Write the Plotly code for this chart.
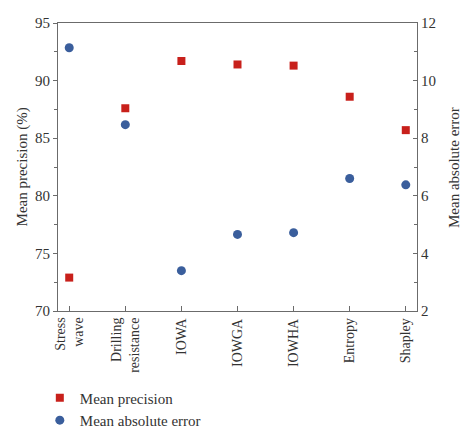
import plotly.graph_objects as go

categories = ["Stress<br>wave", "Drilling<br>resistance", "IOWA", "IOWGA", "IOWHA", "Entropy", "Shapley"]
mean_precision = [72.9, 87.6, 91.7, 91.4, 91.3, 88.6, 85.7]
mean_abs_error = [11.14, 8.47, 3.40, 4.66, 4.72, 6.60, 6.38]
left_title = "Mean precision (%)"
right_title = "Mean absolute error"

RED = "#c8201b"
BLUE = "#3a5e9c"
AX = "#6b6b6b"
TXT = "#333333"
FONT = "Liberation Serif"

fig = go.Figure()
fig.add_trace(go.Scatter(x=categories, y=mean_precision, mode="markers", name="Mean precision",
                         marker=dict(symbol="square", size=8, color=RED), yaxis="y"))
fig.add_trace(go.Scatter(x=categories, y=mean_abs_error, mode="markers", name="Mean absolute error",
                         marker=dict(symbol="circle", size=9, color=BLUE), yaxis="y2"))

# category labels (rotated, line ends aligned toward the axis)
for c in categories:
    fig.add_annotation(text=c, x=c, xref="x", y=0, yref="paper", yanchor="top", xanchor="center",
                       yshift=-5, textangle=-90, align="right", showarrow=False,
                       font=dict(family=FONT, size=14, color=TXT))

fig.add_annotation(text=left_title, xref="paper", yref="paper", x=-0.099, y=0.5, textangle=-90,
                   showarrow=False, xanchor="center", yanchor="middle",
                   font=dict(family=FONT, size=15, color=TXT))
fig.add_annotation(text=right_title, xref="paper", yref="paper", x=1.103, y=0.5, textangle=-90,
                   showarrow=False, xanchor="center", yanchor="middle",
                   font=dict(family=FONT, size=15, color=TXT))

fig.update_layout(
    width=474, height=443,
    margin=dict(l=57.5, r=57, t=23, b=132, autoexpand=False),
    paper_bgcolor="white", plot_bgcolor="white",
    font=dict(family=FONT, size=14, color=TXT),
    showlegend=True,
    legend=dict(xref="container", yref="container", x=0.084, y=0.139, xanchor="left", yanchor="top",
                font=dict(family=FONT, size=15, color=TXT), bgcolor="rgba(0,0,0,0)",
                tracegroupgap=0, itemwidth=30),
    xaxis=dict(type="category", range=[-0.2, 6.2], showline=True, linecolor=AX, linewidth=1,
               mirror=True, ticks="inside", ticklen=5, tickcolor=AX, automargin=False,
               showticklabels=False, showgrid=False, zeroline=False),
    yaxis=dict(range=[70, 95], dtick=5, showline=True, linecolor=AX, linewidth=1, automargin=False,
               ticks="outside", ticklen=4, tickcolor=AX, showgrid=False, zeroline=False,
               minor=dict(ticks="outside", ticklen=3, dtick=2.5, tickcolor=AX),
               tickfont=dict(family=FONT, size=15, color=TXT)),
    yaxis2=dict(range=[2, 12], dtick=2, overlaying="y", side="right", showline=True, linecolor=AX,
                linewidth=1, ticks="inside", ticklen=4, tickcolor=AX, showgrid=False, zeroline=False,
                automargin=False,
                minor=dict(ticks="inside", ticklen=3, dtick=1, tickcolor=AX),
                tickfont=dict(family=FONT, size=15, color=TXT)),
)

fig.write_html("out.html")
